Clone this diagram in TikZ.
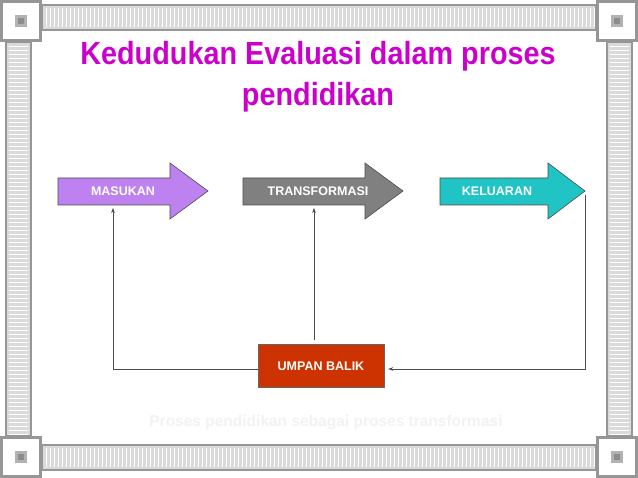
\documentclass[tikz,border=0pt]{standalone}
\usepackage{fontspec}
\setmainfont{Liberation Sans}
\usetikzlibrary{arrows.meta}
\definecolor{barfill}{RGB}{218,218,218}
\definecolor{barline}{RGB}{150,150,150}
\definecolor{ttl}{RGB}{204,0,204}
\definecolor{lav}{RGB}{190,130,240}
\definecolor{gry}{RGB}{128,128,128}
\definecolor{teal}{RGB}{32,196,196}
\definecolor{rust}{RGB}{204,51,0}
\tikzset{
 bar/.style={fill=barfill,draw=barline,line width=2pt},
 corner/.style={fill=white,draw=barline,line width=3pt},
 blk/.style={draw=black!70,line width=0.6pt},
 lbl/.style={text=white,font=\bfseries\fontsize{12.5}{15}\selectfont},
 fb/.style={draw=black!70,line width=0.8pt},
}
\newcommand{\blockarrow}[4]{% x0, xhead, xtip, color
 \draw[blk,fill=#4] (#1,178) -- (#2,178) -- (#2,163) -- (#3,191) -- (#2,219) -- (#2,205) -- (#1,205) -- cycle;}
\begin{document}
\begin{tikzpicture}[x=1pt,y=-1pt]
\useasboundingbox (0,0) rectangle (638,478);
\fill[white] (0,0) rectangle (638,478);
% bars
\draw[bar] (42,5) rectangle (596,30);
\draw[bar] (42,445) rectangle (596,470);
\draw[bar] (6,42) rectangle (31,436);
\draw[bar] (607,42) rectangle (632,436);
\foreach \x in {46,50,...,594}{\draw[white,line width=0.6pt] (\x,8)--(\x,27); \draw[white,line width=0.6pt] (\x,448)--(\x,467);}
\foreach \y in {46,50,...,434}{\draw[white,line width=0.6pt] (9,\y)--(28,\y); \draw[white,line width=0.6pt] (610,\y)--(629,\y);}
\foreach \cx/\cy in {0/0,596/0,0/436,596/436}{
 \draw[corner] (\cx+1.5,\cy+1.5) rectangle (\cx+40.5,\cy+40.5);
 \fill[gray!60] (\cx+15,\cy+15) rectangle (\cx+27,\cy+27);
 \fill[gray!90] (\cx+18,\cy+18) rectangle (\cx+24,\cy+24);
}
% title
\node[text=ttl,font=\bfseries\fontsize{32}{41}\selectfont,align=center,xscale=0.9] (title) at (318,77) {Kedudukan Evaluasi dalam proses\\pendidikan};
% arrows
\blockarrow{58}{170}{208}{lav}
\blockarrow{243}{365}{403}{gry}
\blockarrow{440}{548}{585}{teal}
\node[lbl] (mas) at (123,191) {MASUKAN};
\node[lbl] (tra) at (318,191) {TRANSFORMASI};
\node[lbl] (kel) at (497,191) {KELUARAN};
\coordinate (masb) at (113,208);
\coordinate (trab) at (314,208);
\coordinate (kelt) at (585,195);
\node[fill=rust,draw=black!60,minimum width=126pt,minimum height=43pt,lbl] (ub) at (321,366) {UMPAN BALIK};
\coordinate (c1) at (113,369);
\coordinate (c2) at (585,369);
\draw[fb,-{Stealth[length=5pt]}] (ub.west |- c1) -- (c1) -- (masb);
\draw[fb,-{Stealth[length=5pt]}] (314,340) -- (trab);
\draw[fb,-{Stealth[length=5pt]}] (kelt) -- (c2) -- ([xshift=4pt]ub.east |- c2);
\node[text=black!5,font=\bfseries\fontsize{15.5}{18}\selectfont] (cap) at (326,423) {Proses pendidikan sebagai proses transformasi};
\end{tikzpicture}
\end{document}
